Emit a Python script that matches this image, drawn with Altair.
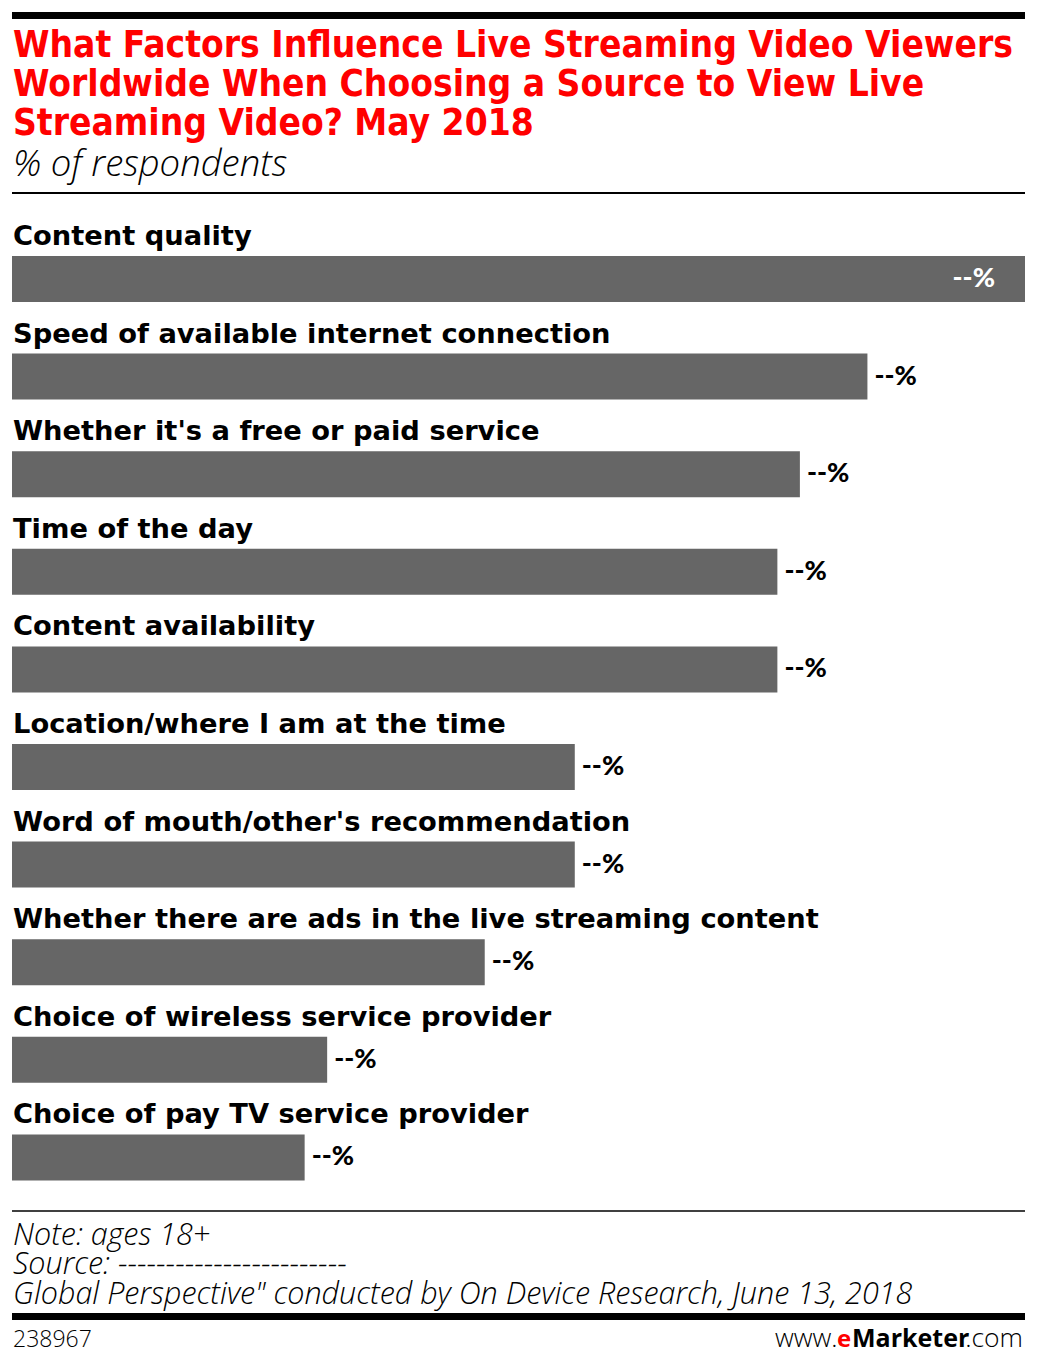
import altair as alt
import pandas as pd

# ---- data ----
categories = [
    "Content quality",
    "Speed of available internet connection",
    "Whether it's a free or paid service",
    "Time of the day",
    "Content availability",
    "Location/where I am at the time",
    "Word of mouth/other's recommendation",
    "Whether there are ads in the live streaming content",
    "Choice of wireless service provider",
    "Choice of pay TV service provider",
]
values = [45, 38, 35, 34, 34, 25, 25, 21, 14, 13]
value_labels = ["--%"] * len(categories)

title_lines = [
    "What Factors Influence Live Streaming Video Viewers",
    "Worldwide When Choosing a Source to View Live",
    "Streaming Video? May 2018",
]
subtitle = "% of respondents"
footer_lines = [
    "Note: ages 18+",
    "Source: ------------------------",
    "Global Perspective\" conducted by On Device Research, June 13, 2018",
]
chart_id = "238967"

df = pd.DataFrame({"factor": categories, "value": values, "label": value_labels})
df["inside"] = df["value"] == max(values)

W, H = 1022, 1350
LABEL_FONT = "DejaVu Sans"
VALUE_FONT = "Lato"
TITLE_FONT = "DejaVu Sans Condensed"
NOTE_FONT = "Open Sans"

x_scale = alt.Scale(domain=[0, 45], range=[4, 1017], nice=False, zero=True)
y_scale = alt.Scale(domain=categories, range=[248, 1172.4], paddingInner=0.529, paddingOuter=0)

base = alt.Chart(df)

bars = base.mark_bar(color="#666666").encode(
    x=alt.X("value:Q", scale=x_scale, axis=None),
    y=alt.Y("factor:N", scale=y_scale, axis=None, sort=categories),
)

cat_labels = base.mark_text(
    align="left", baseline="alphabetic", dy=-11, fontSize=27.3, fontWeight="bold",
    font=LABEL_FONT, color="#000000",
).encode(
    x=alt.value(5),
    y=alt.Y("factor:N", scale=y_scale, axis=None, sort=categories, bandPosition=0),
    text="factor:N",
)

val_out = base.transform_filter("!datum.inside").mark_text(
    align="left", baseline="middle", dx=7, fontSize=27, fontWeight=900,
    font=VALUE_FONT, color="#000000",
).encode(
    x=alt.X("value:Q", scale=x_scale, axis=None),
    y=alt.Y("factor:N", scale=y_scale, axis=None, sort=categories),
    text="label:N",
)

val_in = base.transform_filter("datum.inside").mark_text(
    align="right", baseline="middle", dx=-30, fontSize=27, fontWeight=900,
    font=VALUE_FONT, color="#ffffff",
).encode(
    x=alt.X("value:Q", scale=x_scale, axis=None),
    y=alt.Y("factor:N", scale=y_scale, axis=None, sort=categories),
    text="label:N",
)


def text_layer(txt, x, y, **kw):
    return alt.Chart(pd.DataFrame({"t": [txt]})).mark_text(baseline="alphabetic", **kw).encode(
        x=alt.value(x), y=alt.value(y), text="t:N"
    )


def rule_layer(y, width):
    return alt.Chart(pd.DataFrame({"a": [0]})).mark_rule(color="#000000", strokeWidth=width).encode(
        x=alt.value(4), x2=alt.value(1017), y=alt.value(y)
    )


layers = [
    rule_layer(7.5, 7),
    rule_layer(185, 2),
    rule_layer(1203, 1.5),
    rule_layer(1308.5, 7),
]
for i, line in enumerate(title_lines):
    layers.append(text_layer(line, 5, 48.7 + 39 * i, align="left", fontSize=36.8,
                             fontWeight="bold", font=TITLE_FONT, color="#ff0000"))
layers.append(text_layer(subtitle, 5, 168, align="left", fontSize=36.5, fontStyle="italic",
                         fontWeight=300, font=NOTE_FONT, color="#000000"))
for i, line in enumerate(footer_lines):
    layers.append(text_layer(line, 5, 1237 + 29.3 * i, align="left", fontSize=30.5,
                             fontStyle="italic", fontWeight=300, font=NOTE_FONT, color="#000000"))
layers.append(text_layer(chart_id, 5, 1338.5, align="left", fontSize=23, fontWeight=300,
                         font=NOTE_FONT, color="#000000"))
layers.append(text_layer("www.", 767, 1338.5, align="left", fontSize=26, fontWeight=300,
                         font=NOTE_FONT, color="#000000"))
layers.append(text_layer("e", 829, 1338.5, align="left", fontSize=24, fontWeight="bold",
                         font=NOTE_FONT, color="#ff0000"))
layers.append(text_layer("Marketer", 844, 1338.5, align="left", fontSize=25, fontWeight="bold",
                         font=NOTE_FONT, color="#000000"))
layers.append(text_layer(".com", 1015, 1338.5, align="right", fontSize=26.5, fontWeight=300,
                         font=NOTE_FONT, color="#000000"))

chart = alt.layer(bars, cat_labels, val_out, val_in, *layers).properties(
    width=W, height=H, autosize=alt.AutoSizeParams(type="none"), padding=0,
    background="#ffffff",
).configure_view(stroke=None)

chart.save("out.html", embed_options={"renderer": "svg", "actions": False})
